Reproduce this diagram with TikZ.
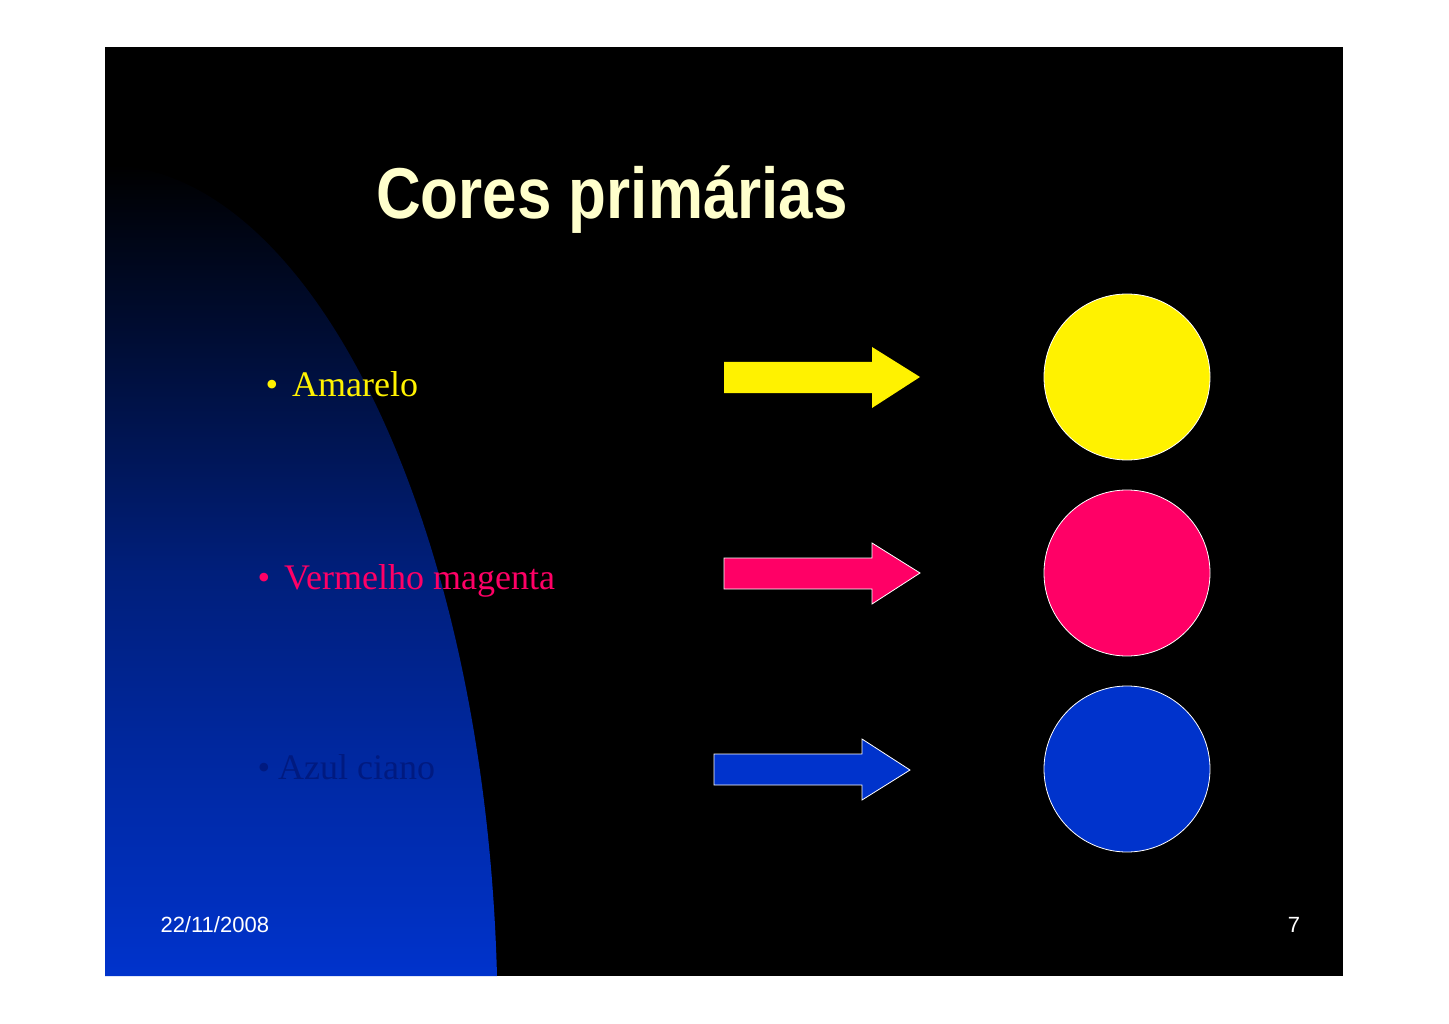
\documentclass[tikz,border=0pt]{standalone}
\usepackage{fontspec}
\setmainfont{Liberation Serif}
\newfontfamily\hsans{Liberation Sans}
\definecolor{mag}{HTML}{FF0066}
\definecolor{cyanblue}{HTML}{0033CC}
\definecolor{titley}{HTML}{FFFFCC}
\definecolor{azul}{HTML}{001A80}
\begin{document}
\begin{tikzpicture}[x=1pt,y=-1pt,
  arr/.style={draw=white,line width=0.8pt},
  circ/.style={circle,draw=white,line width=0.8pt,minimum size=166pt,inner sep=0pt},
  bullet/.style={anchor=west,font=\fontsize{36}{40}\selectfont}]
\useasboundingbox (0,0) rectangle (1449,1024);
\fill[white] (0,0) rectangle (1449,1024);
\fill[black] (105,47) rectangle (1343,976);
\shade[top color=black,bottom color=cyanblue,middle color=cyanblue!60!black]
  (105,165) .. controls (310,165) and (485,520) .. (497,976) -- (105,976) -- cycle;
\node[text=titley,font=\hsans\bfseries\fontsize{72}{80}\selectfont] (title) at (612,200) {\scalebox{0.86}[1]{Cores primárias}};
\node[bullet,text=yellow] (b1) at (262,384) {•\hspace{14pt}Amarelo};
\node[bullet,text=mag] (b2) at (254,581) {•\hspace{14pt}Vermelho magenta};
\node[bullet,text=azul] (b3) at (254,767) {•\hspace{8pt}Azul ciano};
\fill[yellow] (724,362) -- (872,362) -- (872,347) -- (920,377) -- (872,408) -- (872,393) -- (724,393) -- cycle;
\filldraw[arr,fill=mag] (724,558) -- (872,558) -- (872,543) -- (920,573) -- (872,604) -- (872,589) -- (724,589) -- cycle;
\filldraw[arr,fill=cyanblue] (714,754) -- (862,754) -- (862,739) -- (910,770) -- (862,800) -- (862,785) -- (714,785) -- cycle;
\node[circ,fill=yellow] (c1) at (1127,377) {};
\node[circ,fill=mag] (c2) at (1127,573) {};
\node[circ,fill=cyanblue] (c3) at (1127,769) {};
\node[anchor=west,text=white,font=\hsans\fontsize{22}{24}\selectfont] (date) at (157,925) {22/11/2008};
\node[text=white,font=\hsans\fontsize{22}{24}\selectfont] (page) at (1294,925) {7};
\end{tikzpicture}
\end{document}
